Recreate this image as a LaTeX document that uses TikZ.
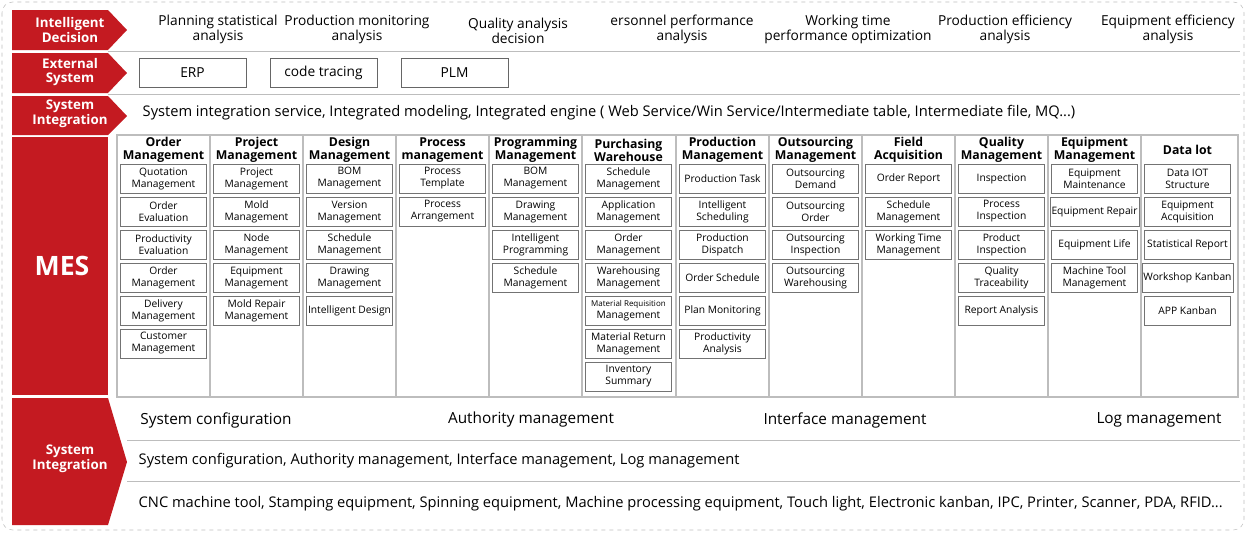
\documentclass[tikz,border=0pt]{standalone}
\usepackage{fontspec}
\setmainfont{Open Sans}
\usetikzlibrary{positioning}
\definecolor{mesred}{HTML}{C41A21}
\definecolor{rule}{HTML}{BDBDBD}

\tikzset{
  band/.style={fill=mesred, draw=none},
  bandtext/.style={text=white, font=\bfseries\fontsize{10}{11}\selectfont, align=center},
  toptext/.style={font=\fontsize{10.3}{11.2}\selectfont, align=center},
  sysbox/.style={draw=black!60, minimum width=80pt, minimum height=22pt, font=\fontsize{10.3}{12}\selectfont},
  colhead/.style={font=\bfseries\fontsize{9.2}{9.6}\selectfont, align=center},
  item/.style={draw=black!55, minimum width=64.5pt, minimum height=22pt, inner sep=1pt,
    align=center, font=\fontsize{7.7}{9}\selectfont},
  bigtext/.style={font=\fontsize{11}{13}\selectfont, anchor=west},
  boldtext/.style={font=\fontsize{11.5}{13}\selectfont},
}

% one column of the MES table: name, left x, header, items
\newcommand\mescol[4]{
  \node[colhead] (#1) at ({#2+46.5},150) {#3};
  \foreach \t [count=\i] in {#4}
    \node[item] (#1-\i) at ({#2+46.5},{178.5+33*(\i-1)}) {\t};
}
\DeclareRobustCommand\tinyitem{\fontsize{6}{7.5}\selectfont}

\begin{document}
\begin{tikzpicture}[x=0.75pt, y=-0.75pt]
  \useasboundingbox (0,0) rectangle (1246,532);
  \draw[rule, dashed, rounded corners=8pt] (2,2) rectangle (1244,530);

  % red bands
  \fill[band] (12,10) -- (108,10) -- (127,30) -- (108,50) -- (12,50) -- cycle;
  \fill[band] (12,53) -- (108,53) -- (127,73) -- (108,93) -- (12,93) -- cycle;
  \fill[band] (12,96) -- (108,96) -- (127,116) -- (108,135) -- (12,135) -- cycle;
  \fill[band] (12,137) rectangle (108,395);
  \fill[band] (12,398) -- (108,398) -- (127,462) -- (108,525) -- (12,525) -- cycle;
  \node[bandtext] (decision) at (70,30) {Intelligent\\Decision};
  \node[bandtext] (external) at (70,72) {External\\System};
  \node[bandtext] (integration) at (70,114) {System\\Integration};
  \node[text=white, font=\bfseries\fontsize{20}{22}\selectfont] (mes) at (62,266) {MES};
  \node[bandtext] (support) at (70,459) {System\\Integration};

  % row separators
  \draw[rule] (108,51) -- (1240,51);
  \draw[rule] (108,94) -- (1240,94);
  \draw[rule] (127,440) -- (1240,440);
  \draw[rule] (127,481) -- (1240,481);

  % intelligent decision
  \node[toptext] (plan) at (218,29) {Planning statistical\\analysis};
  \node[toptext] (monitor) at (357,29) {Production monitoring\\analysis};
  \node[toptext] (quality) at (518,31) {Quality analysis\\decision};
  \node[toptext] (personnel) at (682,29) {ersonnel performance\\analysis};
  \node[toptext] (worktime) at (848,29) {Working time\\performance optimization};
  \node[toptext] (efficiency) at (1005,29) {Production efficiency\\analysis};
  \node[toptext] (equipeff) at (1168,29) {Equipment efficiency\\analysis};

  % external system
  \node[sysbox] (erp) at (192.5,72.5) {ERP};
  \node[sysbox] (tracing) at (323.5,72.5) {code tracing};
  \node[sysbox] (plm) at (454.5,72.5) {PLM};

  % system integration
  \node[bigtext] (service) at (138,113) {System integration service, Integrated modeling, Integrated engine ( Web Service/Win Service/Intermediate table, Intermediate file, MQ...)};

  % MES table
  \draw[rule, line width=0.8pt] (117,135) rectangle (1238,397);
  \foreach \x in {210,303,396,489,582,676,769,862,955,1048,1141}
    \draw[rule, line width=0.8pt] (\x,135) -- (\x,397);
  \mescol{order}{117}{Order\\Management}{{Quotation\\Management},{Order\\Evaluation},{Productivity\\Evaluation},{Order\\Management},{Delivery\\Management},{Customer\\Management}}
  \mescol{project}{210}{Project\\Management}{{Project\\Management},{Mold\\Management},{Node\\Management},{Equipment\\Management},{Mold Repair\\Management}}
  \mescol{design}{303}{Design\\Management}{{BOM\\Management},{Version\\Management},{Schedule\\Management},{Drawing\\Management},{Intelligent Design}}
  \mescol{process}{396}{Process\\management}{{Process\\Template},{Process\\Arrangement}}
  \mescol{program}{489}{Programming\\Management}{{BOM\\Management},{Drawing\\Management},{Intelligent\\Programming},{Schedule\\Management}}
  \mescol{purchase}{582}{Purchasing\\Warehouse}{{Schedule\\Management},{Application\\Management},{Order\\Management},{Warehousing\\Management},{\tinyitem Material Requisition\\Management},{Material Return\\Management},{Inventory\\Summary}}
  \mescol{production}{676}{Production\\Management}{{Production Task},{Intelligent\\Scheduling},{Production\\Dispatch},{Order Schedule},{Plan Monitoring},{Productivity\\Analysis}}
  \mescol{outsource}{769}{Outsourcing\\Management}{{Outsourcing\\Demand},{Outsourcing\\Order},{Outsourcing\\Inspection},{Outsourcing\\Warehousing}}
  \mescol{field}{862}{Field\\Acquisition}{{Order Report},{Schedule\\Management},{Working Time\\Management}}
  \mescol{qualitymgmt}{955}{Quality\\Management}{{Inspection},{Process\\Inspection},{Product\\Inspection},{Quality\\Traceability},{Report Analysis}}
  \mescol{equipment}{1048}{Equipment\\Management}{{Equipment\\Maintenance},{Equipment Repair},{Equipment Life},{Machine Tool\\Management}}
  \mescol{data}{1141}{Data lot}{{Data IOT\\Structure},{Equipment\\Acquisition},{Statistical Report},{Workshop Kanban},{APP Kanban}}

  % support layer
  \node[boldtext] (config) at (216,420) {System configuration};
  \node[boldtext] (authority) at (531,420) {Authority management};
  \node[boldtext] (interface) at (845,420) {Interface management};
  \node[boldtext] (log) at (1159,420) {Log management};
  \node[bigtext] (services) at (134,461) {System configuration, Authority management, Interface management, Log management};
  \node[bigtext] (devices) at (134,504) {CNC machine tool, Stamping equipment, Spinning equipment, Machine processing equipment, Touch light, Electronic kanban, IPC, Printer, Scanner, PDA, RFID...};
\end{tikzpicture}
\end{document}
